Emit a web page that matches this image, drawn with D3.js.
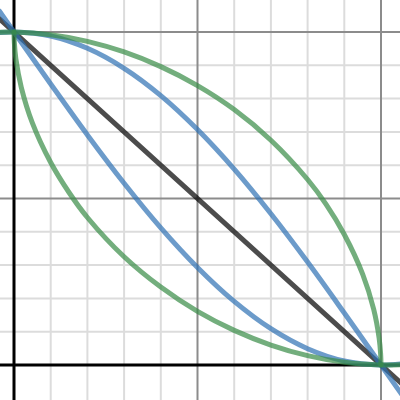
<!DOCTYPE html>
<html>
<head>
<meta charset="utf-8">
<script src="https://cdn.jsdelivr.net/npm/d3@7"></script>
<style>
  body { margin: 0; background: #fff; }
  svg { display: block; }
</style>
</head>
<body>
<script>
// values (x, y in graph units)
var gridMinor = [0.1, 0.2, 0.3, 0.4, 0.6, 0.7, 0.8, 0.9];
var gridMajor = [0.5, 1];

var blackLine = [[-0.05, 1.05], [1.06, -0.06]];

var blueUpper = [[-0.04, 0.998], [0, 1], [0.1, 0.988], [0.2, 0.951], [0.3, 0.891], [0.4, 0.809],
  [0.5, 0.707], [0.6, 0.588], [0.7, 0.454], [0.8, 0.309], [0.9, 0.156], [1, 0], [1.06, -0.094]];

var blueLower = [[-0.04, 1.063], [0, 1], [0.1, 0.844], [0.2, 0.691], [0.3, 0.546], [0.4, 0.412],
  [0.5, 0.293], [0.6, 0.191], [0.7, 0.109], [0.8, 0.049], [0.9, 0.012], [1, 0], [1.06, 0.004]];

var greenUpper = [[-0.04, 0.999], [0, 1], [0.1, 0.992], [0.2, 0.972], [0.3, 0.940], [0.4, 0.896],
  [0.5, 0.839], [0.6, 0.767], [0.7, 0.675], [0.8, 0.557], [0.85, 0.483], [0.9, 0.392],
  [0.95, 0.273], [0.98, 0.168], [0.995, 0.080], [0.999, 0.033], [1, 0]];

var greenLower = [[0, 1], [0.001, 0.967], [0.005, 0.920], [0.02, 0.833], [0.05, 0.727], [0.1, 0.608],
  [0.15, 0.518], [0.2, 0.443], [0.3, 0.325], [0.4, 0.234], [0.5, 0.161], [0.6, 0.104],
  [0.7, 0.060], [0.8, 0.028], [0.9, 0.008], [1, 0], [1.06, 0.001]];

var W = 400, H = 400;

var svg = d3.select("body").append("svg")
  .attr("width", W)
  .attr("height", H);

var x = d3.scaleLinear().domain([0, 1]).range([14, 381]);
var y = d3.scaleLinear().domain([0, 1]).range([365, 32]);

// minor grid
svg.selectAll(".vminor").data(gridMinor).enter().append("line")
  .attr("x1", function(d){ return x(d); }).attr("x2", function(d){ return x(d); })
  .attr("y1", 0).attr("y2", H)
  .attr("stroke", "#dcdcdc").attr("stroke-width", 2);

svg.selectAll(".hminor").data(gridMinor).enter().append("line")
  .attr("x1", 0).attr("x2", W)
  .attr("y1", function(d){ return y(d); }).attr("y2", function(d){ return y(d); })
  .attr("stroke", "#dcdcdc").attr("stroke-width", 2);

// major grid
svg.selectAll(".vmajor").data(gridMajor).enter().append("line")
  .attr("x1", function(d){ return x(d); }).attr("x2", function(d){ return x(d); })
  .attr("y1", 0).attr("y2", H)
  .attr("stroke", "#8c8c8c").attr("stroke-width", 2);

svg.selectAll(".hmajor").data(gridMajor).enter().append("line")
  .attr("x1", 0).attr("x2", W)
  .attr("y1", function(d){ return y(d); }).attr("y2", function(d){ return y(d); })
  .attr("stroke", "#8c8c8c").attr("stroke-width", 2);

// axes
svg.append("line")
  .attr("x1", x(0)).attr("x2", x(0)).attr("y1", 0).attr("y2", H)
  .attr("stroke", "#000").attr("stroke-width", 3);
svg.append("line")
  .attr("x1", 0).attr("x2", W).attr("y1", y(0)).attr("y2", y(0))
  .attr("stroke", "#000").attr("stroke-width", 3);

var line = d3.line()
  .x(function(d){ return x(d[0]); })
  .y(function(d){ return y(d[1]); })
  .curve(d3.curveCatmullRom.alpha(0.5));

var curves = [
  {pts: blackLine, color: "#000000"},
  {pts: blueUpper, color: "#2d70b3"},
  {pts: blueLower, color: "#2d70b3"},
  {pts: greenUpper, color: "#388c46"},
  {pts: greenLower, color: "#388c46"}
];

svg.selectAll(".curve").data(curves).enter().append("path")
  .attr("d", function(d){ return line(d.pts); })
  .attr("fill", "none")
  .attr("stroke", function(d){ return d.color; })
  .attr("stroke-opacity", 0.7)
  .attr("stroke-width", 5)
  .attr("stroke-linecap", "round")
  .attr("stroke-linejoin", "round");
</script>
</body>
</html>
